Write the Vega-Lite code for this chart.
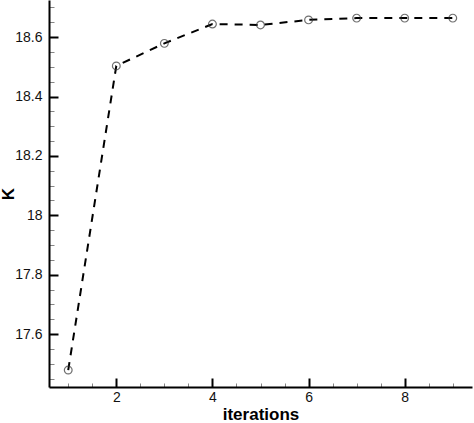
{
  "$schema": "https://vega.github.io/schema/vega-lite/v6.json",
  "autosize": "none",
  "width": 423,
  "height": 387,
  "padding": {"left": 49, "top": 0, "right": 2, "bottom": 36},
  "config": {
    "view": {"stroke": null},
    "font": "Liberation Sans",
    "axis": {"grid": false, "domainColor": "#000", "tickColor": "#000", "labelColor": "#111", "titleColor": "#000"}
  },
  "data": {
    "values": [
      {"iter": 1, "K": 17.479},
      {"iter": 2, "K": 18.503},
      {"iter": 3, "K": 18.579},
      {"iter": 4, "K": 18.644},
      {"iter": 5, "K": 18.641},
      {"iter": 6, "K": 18.658},
      {"iter": 7, "K": 18.664},
      {"iter": 8, "K": 18.664},
      {"iter": 9, "K": 18.664}
    ]
  },
  "resolve": {"axis": {"x": "independent", "y": "independent"}},
  "layer": [
    {
      "mark": {"type": "line", "color": "#000", "strokeWidth": 2, "strokeDash": [8, 7]},
      "encoding": {
        "x": {
          "field": "iter", "type": "quantitative",
          "scale": {"domain": [0.6, 9.4], "nice": false, "zero": false},
          "axis": {"orient": "bottom", "values": [1, 1.5, 2.5, 3, 3.5, 4.5, 5, 5.5, 6.5, 7, 7.5, 8.5, 9], "labels": false, "domain": false, "tickSize": -4, "tickWidth": 0.8, "tickColor": "#666", "title": null}
        },
        "y": {
          "field": "K", "type": "quantitative",
          "scale": {"domain": [17.422, 18.725], "nice": false, "zero": false},
          "axis": {"orient": "left", "values": [17.45, 17.5, 17.55, 17.65, 17.7, 17.75, 17.85, 17.9, 17.95, 18.05, 18.1, 18.15, 18.25, 18.3, 18.35, 18.45, 18.5, 18.55, 18.65, 18.7], "labels": false, "domain": false, "tickSize": -5, "tickWidth": 0.8, "tickColor": "#666", "title": null}
        }
      }
    },
    {
      "mark": {"type": "point", "shape": "circle", "filled": false, "size": 60, "stroke": "#333", "strokeWidth": 1.2},
      "encoding": {
        "x": {
          "field": "iter", "type": "quantitative",
          "axis": {"orient": "bottom", "values": [2, 4, 6, 8], "tickSize": -9, "tickWidth": 2, "domainWidth": 2, "labelFontSize": 14, "labelPadding": 12, "title": "iterations", "titleFontSize": 17, "titleFontWeight": "bold", "titlePadding": 2}
        },
        "y": {
          "field": "K", "type": "quantitative",
          "axis": {"orient": "left", "values": [17.6, 17.8, 18, 18.2, 18.4, 18.6], "format": "~g", "tickSize": -9, "tickWidth": 2, "domainWidth": 2, "labelFontSize": 14, "labelPadding": 16, "title": "K", "titleFontSize": 17, "titleFontWeight": "bold", "titlePadding": -3}
        }
      }
    }
  ]
}
